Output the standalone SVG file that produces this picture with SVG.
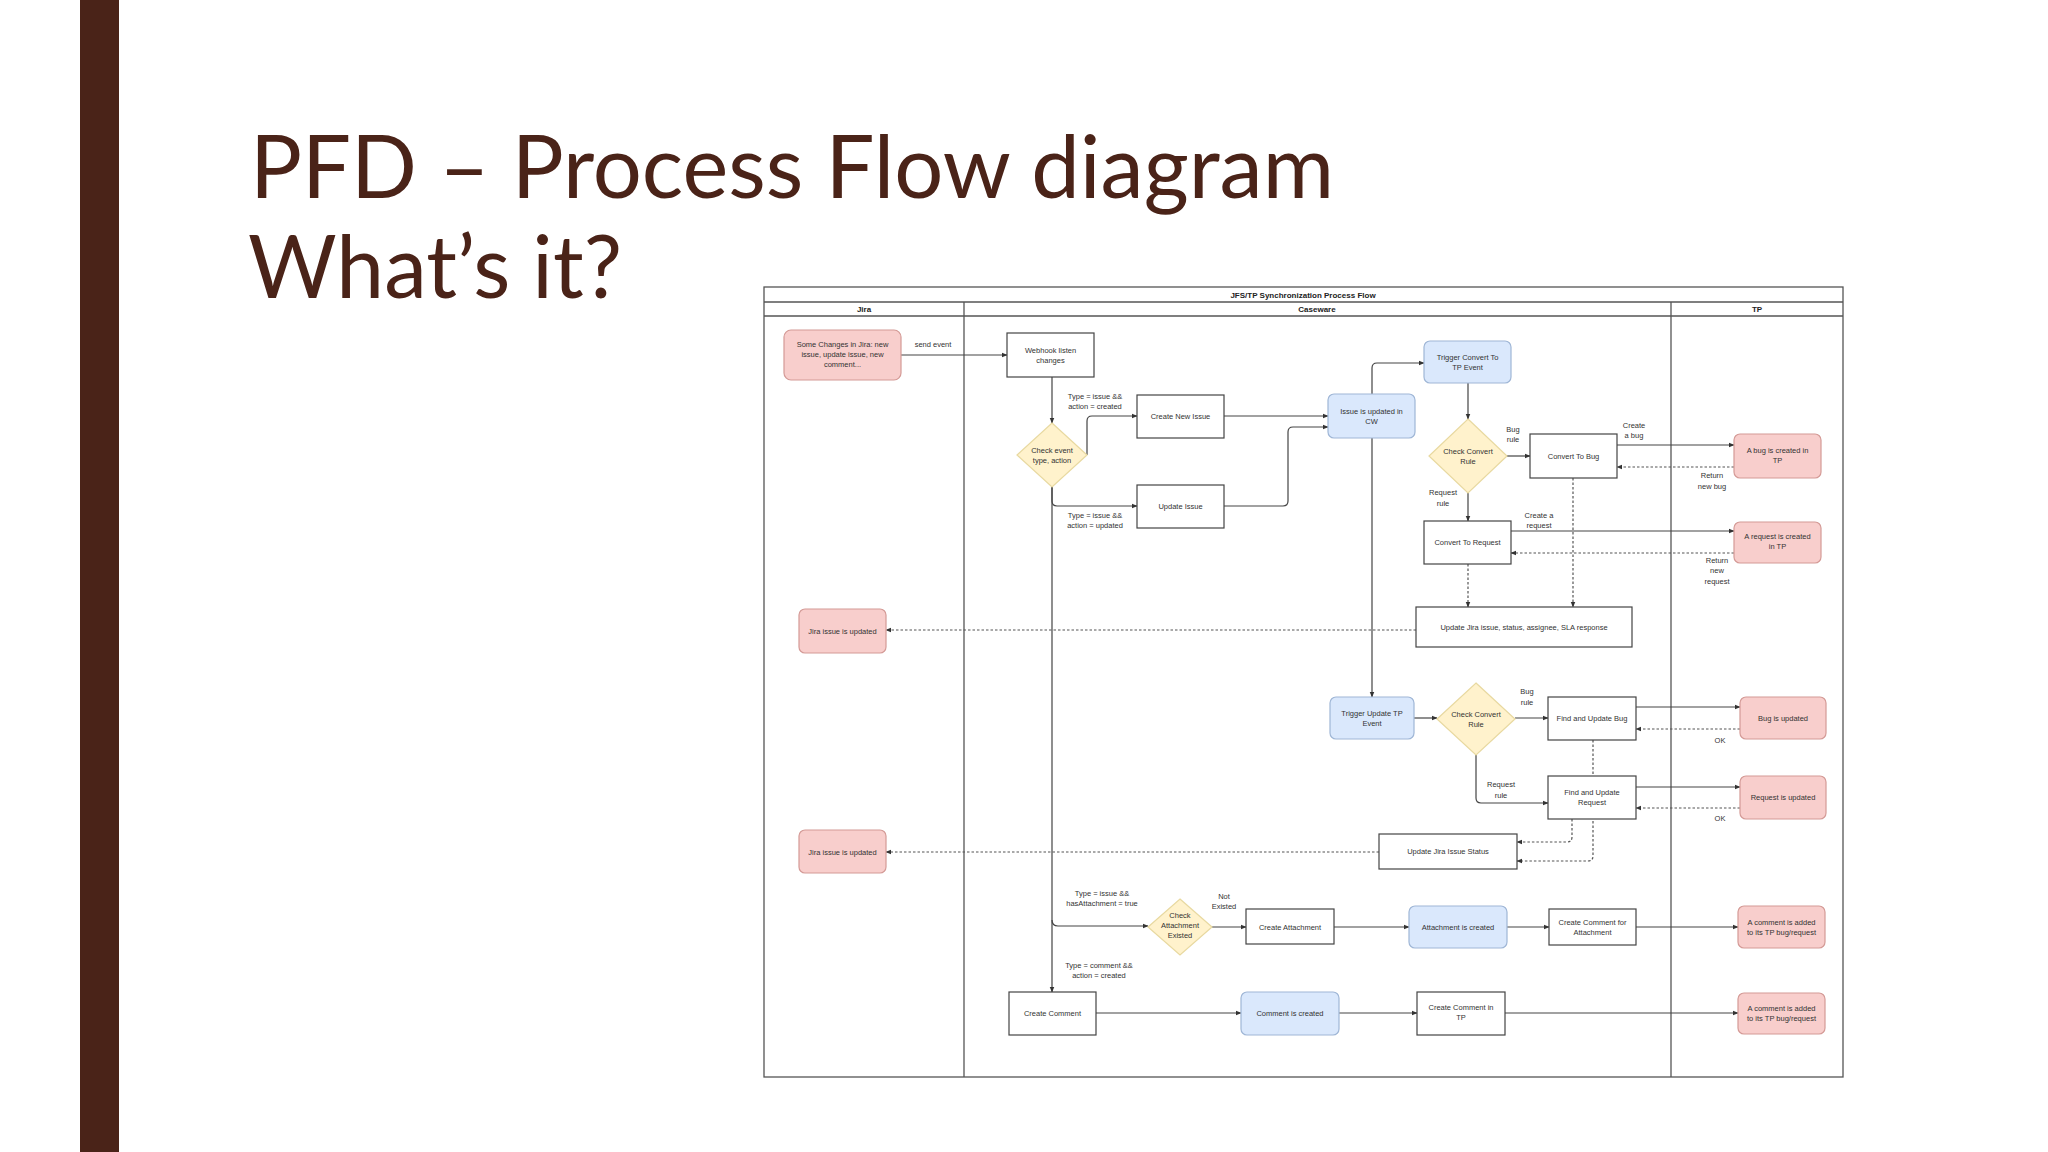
<svg xmlns="http://www.w3.org/2000/svg" width="2048" height="1152" viewBox="0 0 2048 1152">
<defs>
<marker id="ah" viewBox="0 0 10 10" refX="9" refY="5" markerWidth="6" markerHeight="6" orient="auto" markerUnits="userSpaceOnUse">
<path d="M0,1 L10,5 L0,9 Z" fill="#333"/>
</marker>
<style>
.ttl{font-family:Lato,"Open Sans",sans-serif;fill:#4a2318;font-size:88px}
.t{font-family:"Liberation Sans",Arial,sans-serif;font-size:7.5px;fill:#333;text-anchor:middle}
.lb{font-family:"Liberation Sans",Arial,sans-serif;font-size:7.5px;fill:#333;text-anchor:middle}
.hd{font-family:"Liberation Sans",Arial,sans-serif;font-size:8px;fill:#222;text-anchor:middle;font-weight:bold}
.frame{fill:none;stroke:#555;stroke-width:1.3}
.box{fill:#fff;stroke:#444;stroke-width:1.2}
.pink{fill:#f8cecc;stroke:#d49a96;stroke-width:1.2}
.blue{fill:#dae8fc;stroke:#9fb6d6;stroke-width:1.2}
.yel{fill:#fff2cc;stroke:#e8d9a0;stroke-width:1.2}
.c{fill:none;stroke:#444;stroke-width:1.2;marker-end:url(#ah)}
.cn{fill:none;stroke:#444;stroke-width:1.2}
.d{fill:none;stroke:#555;stroke-width:1.2;stroke-dasharray:2.5 2;marker-end:url(#ah)}
.dn{fill:none;stroke:#555;stroke-width:1.2;stroke-dasharray:2.5 2}
</style>
</defs>
<rect x="0" y="0" width="2048" height="1152" fill="#fff"/>
<rect x="80" y="0" width="39" height="1152" fill="#4a2318"/>
<text class="ttl" x="250" y="198" textLength="1084" lengthAdjust="spacingAndGlyphs">PFD – Process Flow diagram</text>
<text class="ttl" x="248" y="298" textLength="374" lengthAdjust="spacingAndGlyphs">What’s it?</text>

<g id="pool">
<rect class="frame" x="764" y="287" width="1079" height="790" fill="#fff"/>
<line class="frame" x1="764" y1="302" x2="1843" y2="302"/>
<line class="frame" x1="764" y1="316" x2="1843" y2="316"/>
<line class="frame" x1="964" y1="302" x2="964" y2="1077"/>
<line class="frame" x1="1671" y1="302" x2="1671" y2="1077"/>
<text class="hd" x="1303" y="297.5">JFS/TP Synchronization Process Flow</text>
<text class="hd" x="864" y="312" font-weight="normal">Jira</text>
<text class="hd" x="1317" y="312">Caseware</text>
<text class="hd" x="1757" y="312">TP</text>
</g>

<g id="connectors">
<path class="c" d="M901,355 L1007,355"/>
<text class="lb" x="933" y="347">send event</text>
<path class="c" d="M1052,377 L1052,423"/>
<path class="c" d="M1087,455 L1087,421 Q1087,416 1092,416 L1137,416"/>
<text class="lb" x="1095" y="399">Type = issue &amp;&amp;</text>
<text class="lb" x="1095" y="409">action = created</text>
<path class="c" d="M1052,487 L1052,501 Q1052,506 1057,506 L1137,506"/>
<text class="lb" x="1095" y="518">Type = issue &amp;&amp;</text>
<text class="lb" x="1095" y="528">action = updated</text>
<path class="c" d="M1052,487 L1052,992"/>
<text class="lb" x="1099" y="968">Type = comment &amp;&amp;</text>
<text class="lb" x="1099" y="978">action = created</text>
<path class="c" d="M1052,920 Q1052,926 1058,926 L1148,926"/>
<text class="lb" x="1102" y="896">Type = issue &amp;&amp;</text>
<text class="lb" x="1102" y="906">hasAttachment = true</text>
<path class="c" d="M1224,416 L1328,416"/>
<path class="c" d="M1224,506 L1283,506 Q1288,506 1288,501 L1288,432 Q1288,427 1293,427 L1328,427"/>
<path class="c" d="M1372,394 L1372,368 Q1372,363 1377,363 L1424,363"/>
<path class="c" d="M1372,438 L1372,697"/>
<path class="c" d="M1468,383 L1468,419"/>
<path class="c" d="M1507,456 L1530,456"/>
<text class="lb" x="1513" y="432">Bug</text>
<text class="lb" x="1513" y="442">rule</text>
<path class="c" d="M1468,493 L1468,521"/>
<text class="lb" x="1443" y="495">Request</text>
<text class="lb" x="1443" y="506">rule</text>
<path class="c" d="M1617,445 L1734,445"/>
<text class="lb" x="1634" y="428">Create</text>
<text class="lb" x="1634" y="438">a bug</text>
<path class="d" d="M1734,467 L1617,467"/>
<text class="lb" x="1712" y="478">Return</text>
<text class="lb" x="1712" y="489">new bug</text>
<path class="c" d="M1511,531 L1734,531"/>
<text class="lb" x="1539" y="518">Create a</text>
<text class="lb" x="1539" y="528">request</text>
<path class="d" d="M1734,553 L1511,553"/>
<text class="lb" x="1717" y="563">Return</text>
<text class="lb" x="1717" y="573">new</text>
<text class="lb" x="1717" y="584">request</text>
<path class="d" d="M1573,478 L1573,607"/>
<path class="d" d="M1468,564 L1468,607"/>
<path class="d" d="M1416,630 L886,630"/>
<path class="c" d="M1414,718 L1437,718"/>
<path class="c" d="M1515,718 L1548,718"/>
<text class="lb" x="1527" y="694">Bug</text>
<text class="lb" x="1527" y="705">rule</text>
<path class="c" d="M1476,755 L1476,798 Q1476,803 1481,803 L1548,803"/>
<text class="lb" x="1501" y="787">Request</text>
<text class="lb" x="1501" y="798">rule</text>
<path class="c" d="M1636,707 L1740,707"/>
<path class="d" d="M1740,729 L1636,729"/>
<text class="lb" x="1720" y="743">OK</text>
<path class="c" d="M1636,787 L1740,787"/>
<path class="d" d="M1740,808 L1636,808"/>
<text class="lb" x="1720" y="821">OK</text>
<path class="d" d="M1593,740 L1593,856 Q1593,861 1588,861 L1517,861"/>
<path class="d" d="M1572,819 L1572,837 Q1572,842 1567,842 L1517,842"/>
<path class="d" d="M1379,852 L886,852"/>
<path class="c" d="M1212,927 L1246,927"/>
<text class="lb" x="1224" y="899">Not</text>
<text class="lb" x="1224" y="909">Existed</text>
<path class="c" d="M1334,927 L1409,927"/>
<path class="c" d="M1507,927 L1549,927"/>
<path class="c" d="M1636,927 L1738,927"/>
<path class="c" d="M1096,1013 L1241,1013"/>
<path class="c" d="M1339,1013 L1417,1013"/>
<path class="c" d="M1505,1013 L1738,1013"/>
</g>

<g id="n-jira-changes"><rect class="pink" x="784" y="330" width="117" height="50" rx="7"/>
<text class="t" x="842.5" y="347">Some Changes in Jira: new</text><text class="t" x="842.5" y="357">issue, update issue, new</text><text class="t" x="842.5" y="367">comment...</text></g>
<g id="n-jira-updated-1"><rect class="pink" x="799" y="609" width="87" height="44" rx="6"/>
<text class="t" x="842.5" y="634">Jira issue is updated</text></g>
<g id="n-jira-updated-2"><rect class="pink" x="799" y="830" width="87" height="43" rx="6"/>
<text class="t" x="842.5" y="855">Jira issue is updated</text></g>

<g id="n-webhook"><rect class="box" x="1007" y="333" width="87" height="44"/>
<text class="t" x="1050.5" y="353">Webhook listen</text><text class="t" x="1050.5" y="363">changes</text></g>
<g id="n-check-event"><path class="yel" d="M1052,423 L1087,455 L1052,487 L1017,455 Z"/>
<text class="t" x="1052" y="453">Check event</text><text class="t" x="1052" y="463">type, action</text></g>
<g id="n-create-new-issue"><rect class="box" x="1137" y="395" width="87" height="43"/>
<text class="t" x="1180.5" y="419">Create New Issue</text></g>
<g id="n-update-issue"><rect class="box" x="1137" y="485" width="87" height="43"/>
<text class="t" x="1180.5" y="509">Update Issue</text></g>
<g id="n-issue-updated-cw"><rect class="blue" x="1328" y="394" width="87" height="44" rx="6"/>
<text class="t" x="1371.5" y="414">Issue is updated in</text><text class="t" x="1371.5" y="424">CW</text></g>
<g id="n-trigger-convert"><rect class="blue" x="1424" y="341" width="87" height="42" rx="6"/>
<text class="t" x="1467.5" y="360">Trigger Convert To</text><text class="t" x="1467.5" y="370">TP Event</text></g>
<g id="n-check-convert-1"><path class="yel" d="M1468,419 L1507,456 L1468,493 L1429,456 Z"/>
<text class="t" x="1468" y="454">Check Convert</text><text class="t" x="1468" y="464">Rule</text></g>
<g id="n-convert-bug"><rect class="box" x="1530" y="434" width="87" height="44"/>
<text class="t" x="1573.5" y="459">Convert To Bug</text></g>
<g id="n-bug-created"><rect class="pink" x="1734" y="434" width="87" height="44" rx="6"/>
<text class="t" x="1777.5" y="453">A bug is created in</text><text class="t" x="1777.5" y="463">TP</text></g>
<g id="n-convert-request"><rect class="box" x="1424" y="521" width="87" height="43"/>
<text class="t" x="1467.5" y="545">Convert To Request</text></g>
<g id="n-request-created"><rect class="pink" x="1734" y="522" width="87" height="41" rx="6"/>
<text class="t" x="1777.5" y="539">A request is created</text><text class="t" x="1777.5" y="549">in TP</text></g>
<g id="n-update-jira-issue"><rect class="box" x="1416" y="607" width="216" height="40"/>
<text class="t" x="1524" y="630">Update Jira issue, status, assignee, SLA response</text></g>
<g id="n-trigger-update"><rect class="blue" x="1330" y="697" width="84" height="42" rx="6"/>
<text class="t" x="1372" y="716">Trigger Update TP</text><text class="t" x="1372" y="726">Event</text></g>
<g id="n-check-convert-2"><path class="yel" d="M1476,683 L1515,719 L1476,755 L1437,719 Z"/>
<text class="t" x="1476" y="717">Check Convert</text><text class="t" x="1476" y="727">Rule</text></g>
<g id="n-find-update-bug"><rect class="box" x="1548" y="697" width="88" height="43"/>
<text class="t" x="1592" y="721">Find and Update Bug</text></g>
<g id="n-bug-updated"><rect class="pink" x="1740" y="697" width="86" height="42" rx="6"/>
<text class="t" x="1783" y="721">Bug is updated</text></g>
<g id="n-find-update-request"><rect class="box" x="1548" y="776" width="88" height="43"/>
<text class="t" x="1592" y="795">Find and Update</text><text class="t" x="1592" y="805">Request</text></g>
<g id="n-request-updated"><rect class="pink" x="1740" y="776" width="86" height="43" rx="6"/>
<text class="t" x="1783" y="800">Request is updated</text></g>
<g id="n-update-jira-status"><rect class="box" x="1379" y="834" width="138" height="35"/>
<text class="t" x="1448" y="854">Update Jira Issue Status</text></g>
<g id="n-check-attachment"><path class="yel" d="M1180,899 L1212,927 L1180,955 L1148,927 Z"/>
<text class="t" x="1180" y="918">Check</text><text class="t" x="1180" y="928">Attachment</text><text class="t" x="1180" y="938">Existed</text></g>
<g id="n-create-attachment"><rect class="box" x="1246" y="909" width="88" height="35"/>
<text class="t" x="1290" y="930">Create Attachment</text></g>
<g id="n-attachment-created"><rect class="blue" x="1409" y="906" width="98" height="42" rx="6"/>
<text class="t" x="1458" y="930">Attachment is created</text></g>
<g id="n-comment-for-attachment"><rect class="box" x="1549" y="909" width="87" height="36"/>
<text class="t" x="1592.5" y="925">Create Comment for</text><text class="t" x="1592.5" y="935">Attachment</text></g>
<g id="n-comment-added-1"><rect class="pink" x="1738" y="906" width="87" height="42" rx="6"/>
<text class="t" x="1781.5" y="925">A comment is added</text><text class="t" x="1781.5" y="935">to its TP bug/request</text></g>
<g id="n-create-comment"><rect class="box" x="1009" y="992" width="87" height="43"/>
<text class="t" x="1052.5" y="1016">Create Comment</text></g>
<g id="n-comment-created"><rect class="blue" x="1241" y="992" width="98" height="43" rx="6"/>
<text class="t" x="1290" y="1016">Comment is created</text></g>
<g id="n-comment-in-tp"><rect class="box" x="1417" y="992" width="88" height="43"/>
<text class="t" x="1461" y="1010">Create Comment in</text><text class="t" x="1461" y="1020">TP</text></g>
<g id="n-comment-added-2"><rect class="pink" x="1738" y="993" width="87" height="41" rx="6"/>
<text class="t" x="1781.5" y="1011">A comment is added</text><text class="t" x="1781.5" y="1021">to its TP bug/request</text></g>
</svg>
